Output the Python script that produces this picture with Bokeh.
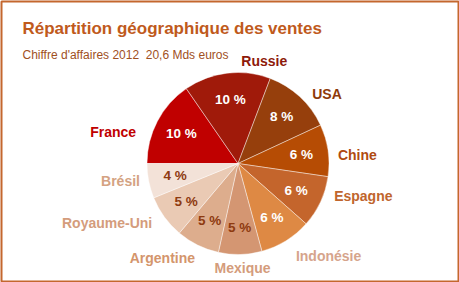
import math
from bokeh.plotting import figure
from bokeh.models import Range1d, ColumnDataSource
from bokeh.core.properties import value
from bokeh.embed import file_html
from bokeh.resources import INLINE

# ---- data ----
countries = ["France", "Russie", "USA", "Chine", "Espagne", "Indonésie",
             "Mexique", "Argentine", "Royaume-Uni", "Brésil"]
shares = [10, 10, 8, 6, 6, 6, 5, 5, 5, 4]
title_text = "Répartition géographique des ventes"
subtitle_text = "Chiffre d'affaires 2012\u00a0\u00a020,6 Mds euros"

# ---- style ----
slice_colors = ["#C00000", "#A01A0A", "#963F0C", "#B64C04", "#C4652C",
                "#DE8944", "#D49672", "#DDAD8D", "#EACAB4", "#F3E2D8"]
inner_colors = ["white"] * 6 + ["#8E3A10"] * 4
outer_colors = ["#C00000", "#8E1A0A", "#8E3A0A", "#B04A10", "#C0652D",
                "#D6A48C", "#D49C7C", "#D4956C", "#D49C7C", "#D4A282"]
# manual label placement tweaks (screen px, +y = up), like a hand-adjusted label layout
label_nudge = {"France": (-8, -18), "Russie": (39, -3), "USA": (2, -8),
               "Chine": (-5, -7), "Espagne": (0, 12), "Brésil": (6, 3),
               "Argentine": (4, 1), "Indonésie": (2, -2), "Royaume-Uni": (0, 3),
               "Mexique": (2, 1)}
FONT = "Liberation Sans"
W, H = 459, 282
CX, CY, R = 237.5, H - 163, 91
R_IN, R_OUT = 64, 106

total = sum(shares)
starts, ends, mids = [], [], []
cum = 0.0
for v in shares:
    a0 = math.pi - 2 * math.pi * cum / total
    cum += v
    a1 = math.pi - 2 * math.pi * cum / total
    starts.append(a1)
    ends.append(a0)
    mids.append((a0 + a1) / 2)

p = figure(width=W, height=H, x_range=Range1d(1, W - 1), y_range=Range1d(1, H - 1),
           output_backend="svg", toolbar_location=None, min_border=1,
           background_fill_color="white", border_fill_color="white",
           outline_line_color="#C4672E", outline_line_width=2)
p.axis.visible = False
p.grid.visible = False

src = ColumnDataSource(dict(start=starts, end=ends, color=slice_colors))
p.wedge(x=CX, y=CY, radius=R, start_angle="start", end_angle="end",
        fill_color="color", line_color="white", line_width=0.7, line_alpha=0.6,
        source=src)

# inner labels
ix = [CX + R_IN * math.cos(m) for m in mids]
iy = [CY + R_IN * math.sin(m) for m in mids]
itext = [f"{v} %" for v in shares]
p.text(x=ix, y=iy, text=itext, text_color=inner_colors, text_align="center",
       text_baseline="middle", text_font=value(FONT), text_font_style="bold",
       text_font_size="13.5px")

# outer labels
ox, oy, oal = [], [], []
for name, m in zip(countries, mids):
    c, s = math.cos(m), math.sin(m)
    dx, dy = label_nudge.get(name, (0, 0))
    ox.append(CX + R_OUT * c + dx)
    oy.append(CY + R_OUT * s + dy)
    oal.append("left" if c > 0.35 else ("right" if c < -0.35 else "center"))
osrc = ColumnDataSource(dict(x=ox, y=oy, t=countries, c=outer_colors, a=oal))
p.text(x="x", y="y", text="t", text_color="c", text_align="a",
       text_baseline="middle", text_font=value(FONT), text_font_style="bold",
       text_font_size="14px", source=osrc)

# titles
p.text(x=[22], y=[H - 28], text=[title_text], text_color="#C05A1C",
       text_font=value(FONT), text_font_style="bold", text_font_size="17px",
       text_baseline="alphabetic")
p.text(x=[22], y=[H - 54], text=[subtitle_text], text_color="#A0501E",
       text_font=value(FONT), text_font_size="12px", text_baseline="alphabetic")

open("out.html", "w").write(file_html(p, INLINE))
